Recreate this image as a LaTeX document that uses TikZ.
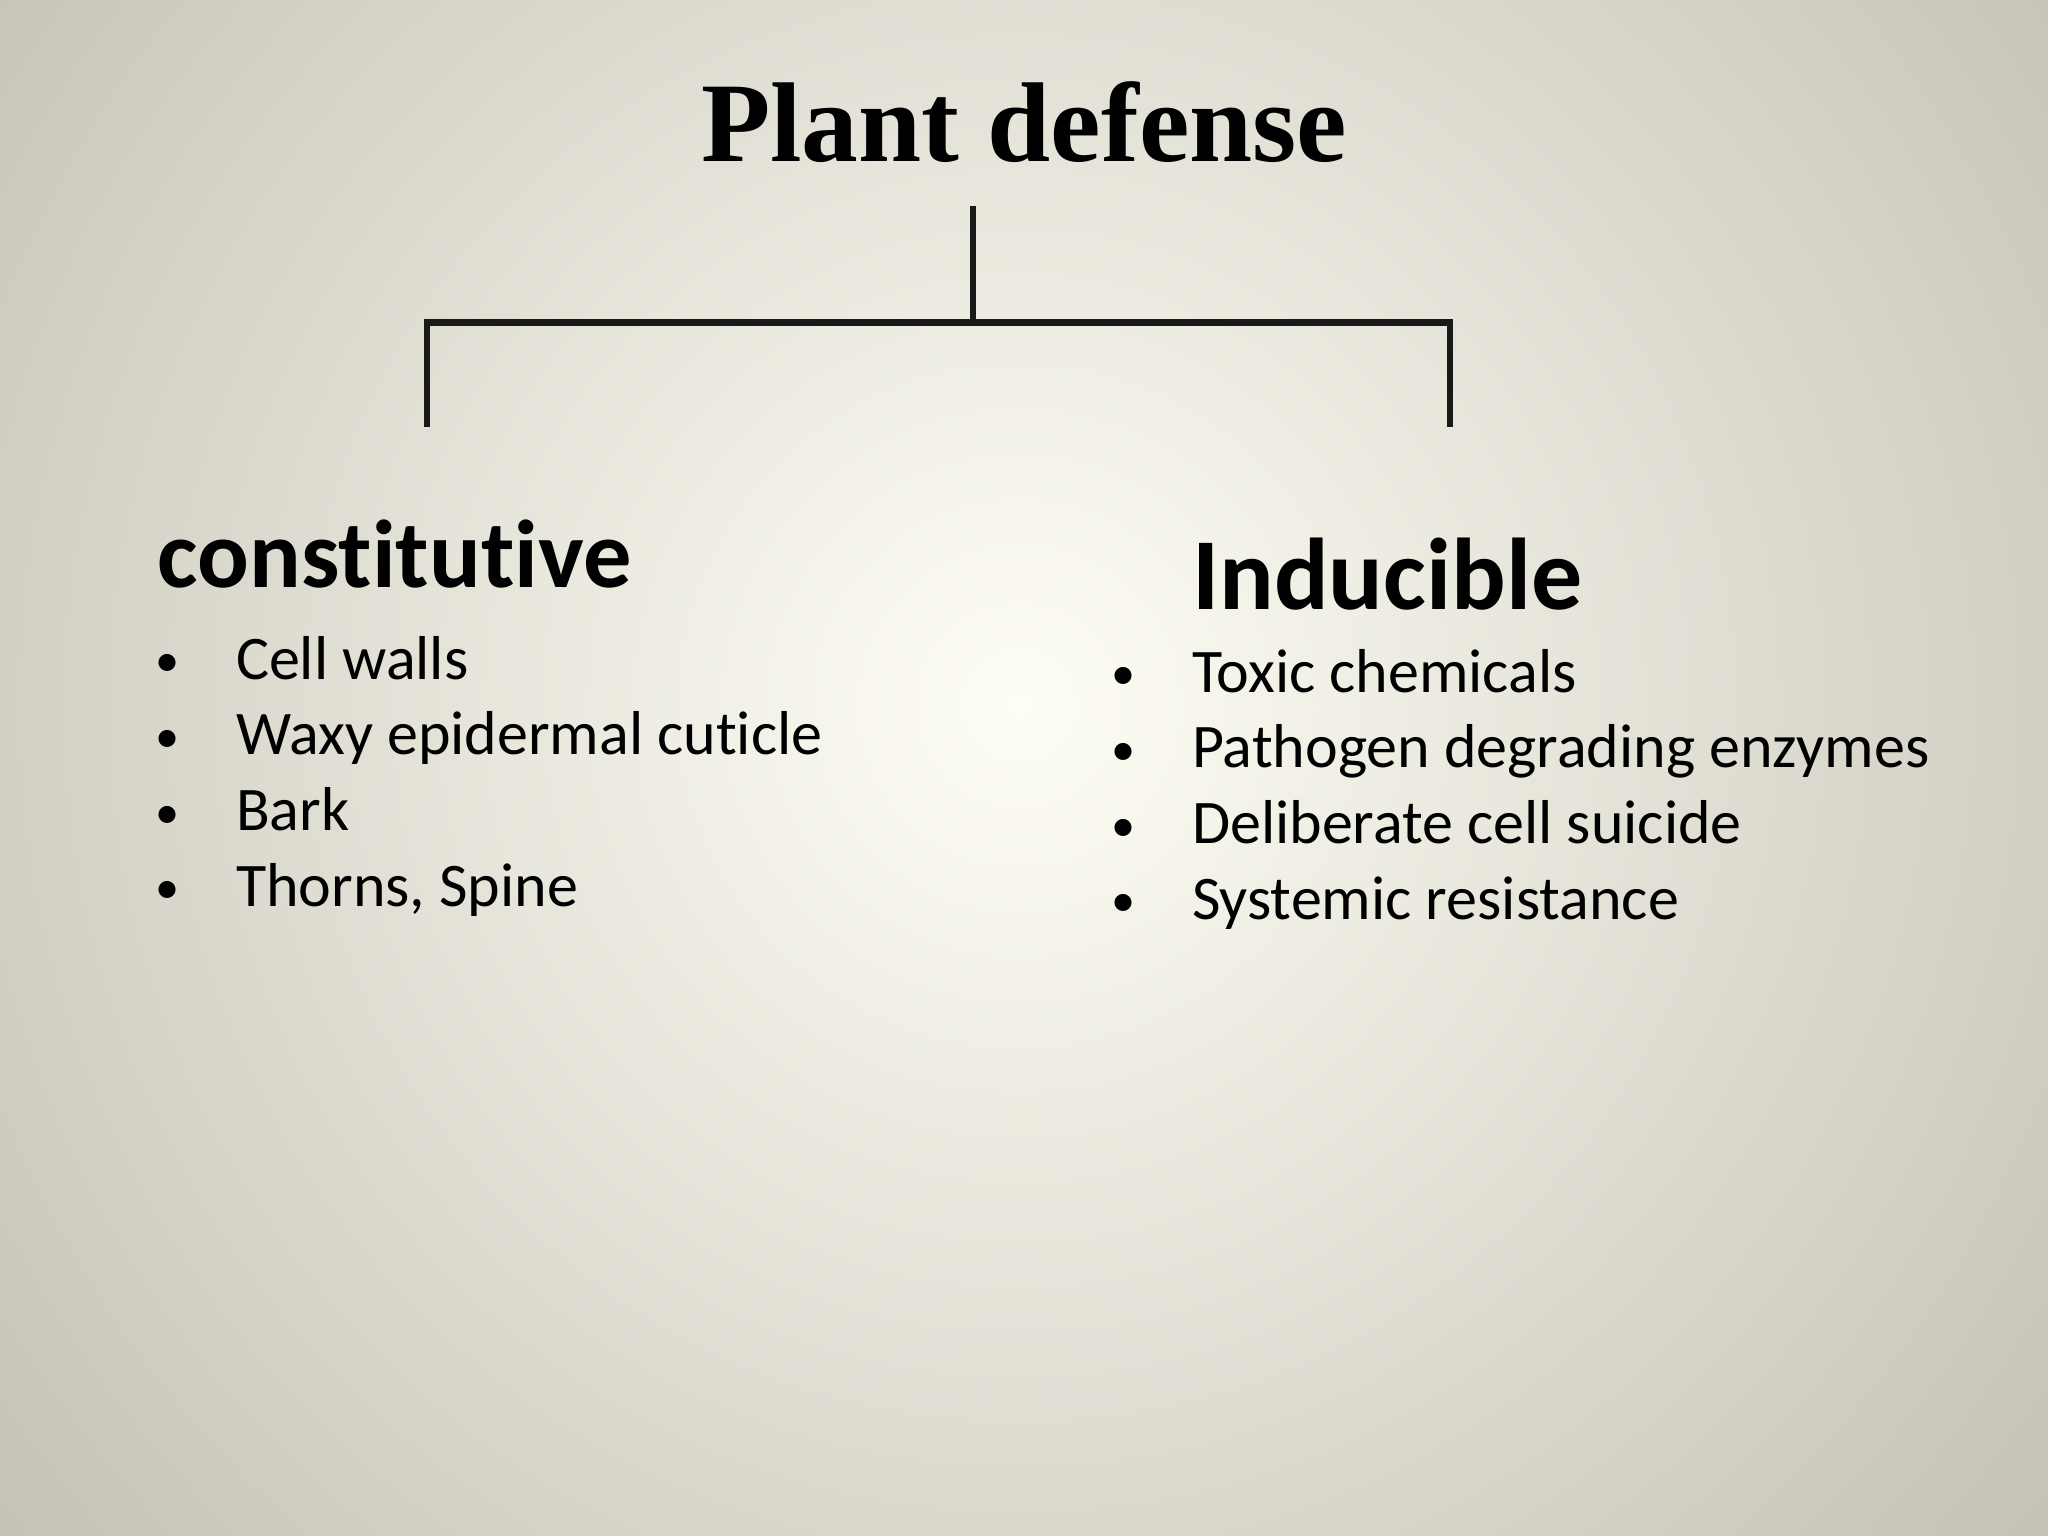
\documentclass[tikz,border=0pt]{standalone}
\usepackage{fontspec}
\setmainfont{Carlito}[Ligatures={NoCommon}]
\newfontfamily\titlefont{Liberation Serif}
\definecolor{bgin}{HTML}{FFFEF4}
\definecolor{bgout}{HTML}{A8A599}
\begin{document}
\begin{tikzpicture}[x=0.01cm,y=-0.01cm,
  item/.style={anchor=base west,inner sep=0pt,font=\fontsize{13.5}{16}\selectfont},
  bul/.style={anchor=base,inner sep=0pt,font=\fontsize{10.5}{16}\selectfont},
  head/.style={anchor=base west,inner sep=0pt},
  br/.style={line width=1.4pt,black!90}]
\useasboundingbox (0,0) rectangle (1568,1176);
\fill[bgout] (0,0) rectangle (1568,1176);
\shade[inner color=bgin,outer color=bgout,shading=radial] (-720,-960) rectangle (2280,2040);
\node[anchor=base,inner sep=0pt,font=\titlefont\bfseries\fontsize{24.7}{30}\selectfont] (title) at (784,124) {Plant defense};
\coordinate (top) at (745,158);
\coordinate (mid) at (745,247);
\coordinate (l) at (327,247);
\coordinate (r) at (1110,247);
\coordinate (lb) at (327,327);
\coordinate (rb) at (1110,327);
\draw[br] (top) -- (mid);
\draw[br] (lb) -- (l) -- (r) -- (rb);
\node[head,font=\bfseries\fontsize{21}{26}\selectfont] (con) at (120,450) {constitutive};
\node[head,font=\bfseries\fontsize{22.2}{26}\selectfont] (ind) at (912,467) {Inducible};
\foreach \t [count=\i] in {Cell walls,Waxy epidermal cuticle,Bark,{Thorns, Spine}}{
  \node[bul] (lb\i) at (128,518+58*\i-58) {•};
  \node[item] (li\i) at (180,520+58*\i-58) {\t};
}
\foreach \t [count=\i] in {Toxic chemicals,Pathogen degrading enzymes,Deliberate cell suicide,Systemic resistance}{
  \node[bul] (rb\i) at (860,528+58*\i-58) {•};
  \node[item] (ri\i) at (912,530+58*\i-58) {\t};
}
\end{tikzpicture}
\end{document}
